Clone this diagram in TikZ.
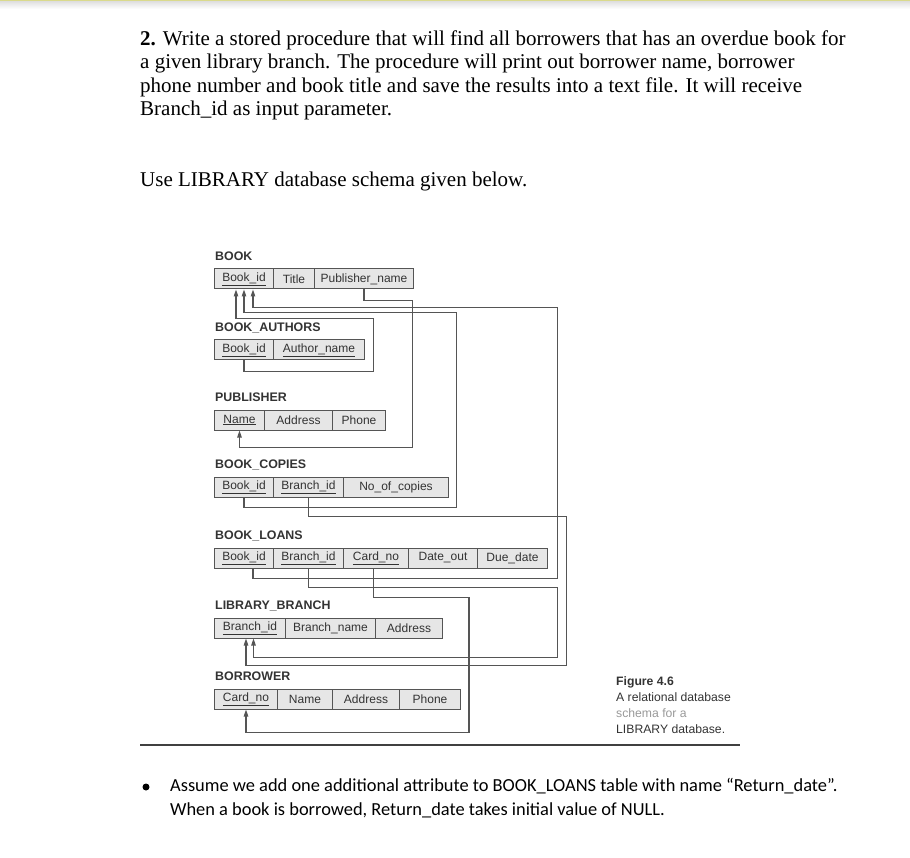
\documentclass[tikz,border=0pt]{standalone}
\usepackage{fontspec}
\setmainfont{Liberation Serif}
\newfontfamily\schemafont{Liberation Sans}
\newfontfamily\notefont{Carlito}
\usepackage{tikz}
\usetikzlibrary{arrows.meta}
\definecolor{linegray}{HTML}{555555}
\definecolor{cellgray}{HTML}{E6E6E6}
\definecolor{textgray}{HTML}{333333}
\definecolor{topline}{HTML}{DADA8C}

\begin{document}
\begin{tikzpicture}[
    x=1pt, y=-1pt,
    cell/.style={draw=linegray, fill=cellgray, line width=1pt, minimum height=20pt, inner sep=0pt, anchor=west,
        font=\schemafont\fontsize{12}{13}\selectfont, text=textgray},
    tname/.style={anchor=west, inner sep=0pt, text height=9pt, text depth=2pt,
        font=\schemafont\bfseries\fontsize{12.4}{13}\selectfont, text=textgray},
    fk/.style={draw=linegray, line width=1.1pt, -{Triangle[length=7pt,width=4.5pt]}},
    qline/.style={anchor=west, inner sep=0pt, text height=14pt, text depth=5pt, font=\fontsize{21}{24}\selectfont},
    nline/.style={anchor=west, inner sep=0pt, text height=13pt, text depth=4pt, font=\notefont\fontsize{18.4}{22}\selectfont},
    figcap/.style={anchor=west, inner sep=0pt, text height=9pt, text depth=2pt, font=\schemafont\fontsize{12.2}{13}\selectfont, text=textgray}
]
    \useasboundingbox (0,0) rectangle (910,858);
    % page top
    \shade[top color=black!12, bottom color=white] (0,1.5) rectangle (910,9);
    \fill[topline] (0,0) rectangle (910,1.5);

    % Question
    \node[qline] (q1) at (140,41) {\textbf{2.} Write a stored procedure that will find all borrowers that has an overdue book for};
    \node[qline] (q2) at (140,64) {a given library branch. The procedure will print out borrower name, borrower};
    \node[qline] (q3) at (140,88) {phone number and book title and save the results into a text file. It will receive};
    \node[qline] (q4) at (140,111) {Branch\_id as input parameter.};
    \node[qline] (use) at (140,182) {Use LIBRARY database schema given below.};

    % Tables
    \node[tname] (t-book) at (215,257) {BOOK};
    \node[cell, minimum width=59pt] (b-id) at (214,279) {\underline{Book\_id}};
    \node[cell, minimum width=41pt] (b-title) at (273,279) {Title};
    \node[cell, minimum width=99pt] (b-pub) at (314,279) {Publisher\_name};

    \node[tname] (t-authors) at (215,328) {BOOK\_AUTHORS};
    \node[cell, minimum width=59pt] (ba-id) at (214,350) {\underline{Book\_id}};
    \node[cell, minimum width=91pt] (ba-name) at (273,350) {\underline{Author\_name}};

    \node[tname] (t-publisher) at (215,398) {PUBLISHER};
    \node[cell, minimum width=50pt] (p-name) at (214,420) {\underline{Name}};
    \node[cell, minimum width=68pt] (p-addr) at (264,420) {Address};
    \node[cell, minimum width=53pt] (p-phone) at (332,420) {Phone};

    \node[tname] (t-copies) at (215,465) {BOOK\_COPIES};
    \node[cell, minimum width=59pt] (bc-id) at (214,487) {\underline{Book\_id}};
    \node[cell, minimum width=70pt] (bc-br) at (273,487) {\underline{Branch\_id}};
    \node[cell, minimum width=105pt] (bc-num) at (343,487) {No\_of\_copies};

    \node[tname] (t-loans) at (215,536) {BOOK\_LOANS};
    \node[cell, minimum width=59pt] (bl-id) at (214,558) {\underline{Book\_id}};
    \node[cell, minimum width=70pt] (bl-br) at (273,558) {\underline{Branch\_id}};
    \node[cell, minimum width=65pt] (bl-card) at (343,558) {\underline{Card\_no}};
    \node[cell, minimum width=69pt] (bl-out) at (408,558) {Date\_out};
    \node[cell, minimum width=70pt] (bl-due) at (477,558) {Due\_date};

    \node[tname] (t-branch) at (215,606) {LIBRARY\_BRANCH};
    \node[cell, minimum width=71pt] (lb-id) at (214,628) {\underline{Branch\_id}};
    \node[cell, minimum width=90pt] (lb-name) at (285,628) {Branch\_name};
    \node[cell, minimum width=67pt] (lb-addr) at (375,628) {Address};

    \node[tname] (t-borrower) at (215,677) {BORROWER};
    \node[cell, minimum width=63pt] (br-card) at (214,699) {\underline{Card\_no}};
    \node[cell, minimum width=55pt] (br-name) at (277,699) {Name};
    \node[cell, minimum width=67pt] (br-addr) at (332,699) {Address};
    \node[cell, minimum width=61pt] (br-phone) at (399,699) {Phone};

    % Foreign keys
    \draw[fk] (ba-id.south) -- ++(0,11) -- ++(129.5,0) -- ++(0,-53) -| ([xshift=-8pt]b-id.south);
    \draw[fk] (b-pub.south) -- ++(0,11) -- ++(48.5,0) -- ++(0,147) -| (p-name.south);
    \draw[fk] (bc-id.south) -- ++(0,10) -- ++(212.5,0) -- ++(0,-195) -| (b-id.south);
    \draw[fk] ([xshift=9pt]bl-id.south) -- ++(0,10) -- ++(304.5,0) -- ++(0,-271) -| ([xshift=9pt]b-id.south);
    \draw[fk] (bc-br.south) -- ++(0,19) -- ++(258,0) -- ++(0,149) -| ([xshift=-4pt]lb-id.south);
    \draw[fk] (bl-br.south) -- ++(0,19) -- ++(249,0) -- ++(0,70) -| ([xshift=3.5pt]lb-id.south);
    \draw[fk] ([xshift=-2.5pt]bl-card.south) -- ++(0,29) -- ++(95.5,0) -- ++(0,135) -| (br-card.south);

    % Caption
    \node[figcap] (fig) at (616,682) {\bfseries Figure 4.6};
    \node[figcap] (fig2) at (616,698) {A relational database};
    \node[figcap, text=black!40] (fig3) at (616,714) {schema for a};
    \node[figcap] (fig4) at (616,730) {LIBRARY database.};
    \draw[draw=black!75, line width=1.4pt] (140,745) -- (740,745);

    % Note
    \node[circle, fill=black, inner sep=0pt, minimum size=7pt] (dot) at (146,787) {};
    \node[nline] (n1) at (170,787) {Assume we add one additional attribute to BOOK\_LOANS table with name “Return\_date”.};
    \node[nline] (n2) at (170,811) {When a book is borrowed, Return\_date takes initial value of NULL.};
\end{tikzpicture}
\end{document}
